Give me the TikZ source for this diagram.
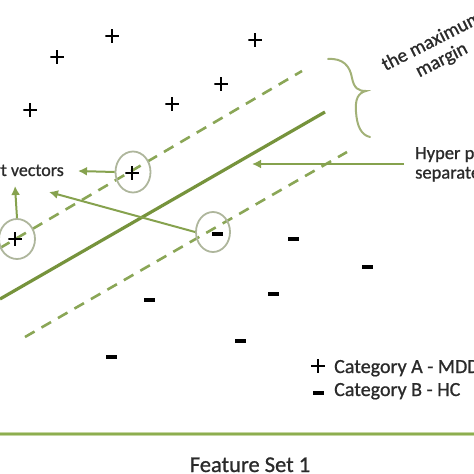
\documentclass[tikz,border=0pt]{standalone}
\usepackage{fontspec}
\setmainfont{Carlito}[FakeBold=0.9]
\usetikzlibrary{shapes.geometric,arrows.meta}
\definecolor{hgreen}{HTML}{76933C}
\definecolor{dgreen}{HTML}{8AA656}
\definecolor{agreen}{HTML}{86A24E}
\definecolor{bgreen}{HTML}{A2B177}
\definecolor{cgray}{HTML}{AEB69C}
\definecolor{axlight}{HTML}{C6D6A3}
\definecolor{axdark}{HTML}{8DAE4F}
\definecolor{txt}{HTML}{2A2A2A}
\tikzset{
  plusmk/.style={minimum size=13.5pt, inner sep=0pt, outer sep=0pt,
    path picture={\draw[line width=2.9pt,black]
      (path picture bounding box.north) -- (path picture bounding box.south)
      (path picture bounding box.west) -- (path picture bounding box.east);}},
  minusmk/.style={fill=black, minimum width=11pt, minimum height=3.8pt, inner sep=0pt, outer sep=0pt},
  svc/.style={ellipse, draw=cgray, line width=1.8pt, inner sep=0pt},
  hyper/.style={hgreen, line width=3.2pt},
  margline/.style={dgreen, line width=2.6pt, dash pattern=on 11pt off 8pt},
  arr/.style={agreen, line width=2pt, -{Latex[length=9pt,width=9pt]}},
  lbl/.style={text=txt, inner sep=0pt},
}
\begin{document}
\begin{tikzpicture}[x=1pt,y=-1pt]
\useasboundingbox (0,0) rectangle (474,474);
\clip (0,0) rectangle (474,474);

% hyperplane and margins
\coordinate (h1) at (0,299);
\coordinate (h2) at (325,112);
\coordinate (u1) at (0,248);
\coordinate (u2) at (302,71);
\coordinate (l1) at (25,337);
\coordinate (l2) at (347,152);
\draw[hyper] (h1) -- (h2);
\draw[margline] (u1) -- (u2);
\draw[margline] (l1) -- (l2);

% category A points
\node[plusmk] (pa1) at (57,57) {};
\node[plusmk] (pa2) at (112,36) {};
\node[plusmk] (pa3) at (30,110) {};
\node[plusmk] (pa4) at (172,104) {};
\node[plusmk] (pa5) at (221,84) {};
\node[plusmk] (pa6) at (255,40) {};

% category B points
\node[minusmk] (pb1) at (293,239) {};
\node[minusmk] (pb2) at (367,267) {};
\node[minusmk] (pb3) at (273,294) {};
\node[minusmk] (pb4) at (149,300) {};
\node[minusmk] (pb5) at (111,357) {};
\node[minusmk] (pb6) at (240,341) {};

% support vectors
\node[svc, minimum width=35pt, minimum height=41pt] (sv1) at (133,172) {};
\node[plusmk] (sv1p) at (132,173) {};
\node[svc, minimum width=36pt, minimum height=40pt] (sv2) at (17,239) {};
\node[plusmk] (sv2p) at (15,239) {};
\node[svc, minimum width=34pt, minimum height=40pt] (sv3) at (213,232) {};
\node[minusmk] (sv3m) at (217,234) {};

% labels
\node[lbl, anchor=base east, font=\fontsize{18}{20}\selectfont] (svt) at (64,176) {Support vectors};
\coordinate (a1) at (78,171);
\coordinate (a2) at (15,186);
\coordinate (a3) at (49,192);
\draw[arr] (sv1.west) -- (a1);
\draw[arr] (sv2.north) -- (a2);
\draw[arr] (sv3.west) -- (a3);

\node[lbl, anchor=north west, align=left, font=\fontsize{18.5}{19.5}\selectfont] (hpt) at (415,146) {Hyper plane\\separates};
\coordinate (hs) at (404,164);
\coordinate (he) at (252,164);
\draw[arr] (hs) -- (he);

% brace
\draw[bgreen, line width=2pt, line cap=round]
  (328,59) .. controls (343,58) and (350,66) .. (352,78)
  .. controls (354,88) and (358,91) .. (366,91)
  .. controls (358,93) and (355,99) .. (356,112)
  .. controls (357,126) and (361,135) .. (370,137);
\node[lbl, rotate=27, align=center, font=\fontsize{19.5}{21}\selectfont] (mm) at (437,51) {the maximum\\margin};

% legend
\node[plusmk, minimum size=14pt] (lgp) at (318,366) {};
\node[minusmk, minimum width=11pt] (lgm) at (318,393) {};
\node[lbl, anchor=base west, font=\fontsize{20}{22}\selectfont] (lga) at (334,373) {Category A - MDD};
\node[lbl, anchor=base west, font=\fontsize{20}{22}\selectfont] (lgb) at (334,396) {Category B - HC};

% axis
\coordinate (ax1) at (0,434);
\coordinate (ax2) at (474,434);
\draw[axlight, line width=4.5pt] (ax1) -- (ax2);
\draw[axdark, line width=2pt] (ax1) -- (ax2);
\node[lbl, anchor=base, font=\fontsize{22.5}{24}\selectfont] (fs) at (250,472) {Feature Set 1};
\end{tikzpicture}
\end{document}
